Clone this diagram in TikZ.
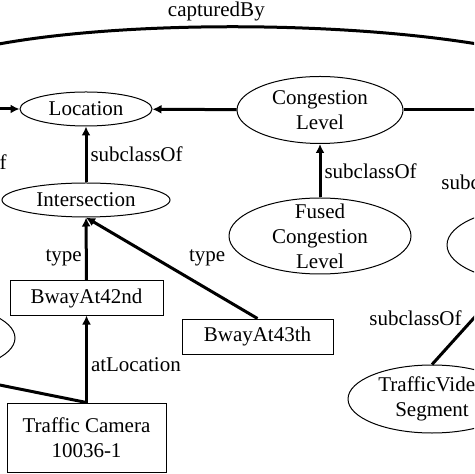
\documentclass[tikz,border=0pt]{standalone}
\usepackage{fontspec}
\setmainfont{Liberation Serif}
\usetikzlibrary{shapes.geometric, arrows.meta}

\begin{document}
\begin{tikzpicture}[
    x=0.5pt, y=-0.5pt,
    font=\fontsize{10.5}{12.5}\selectfont,
    cls/.style={draw, ellipse, line width=0.5pt, inner sep=-5pt, align=center},
    inst/.style={draw, rectangle, line width=0.5pt, inner sep=0pt, align=center},
    arrow/.style={->, >={Latex[length=4.5pt, width=4.5pt]}, line width=1.5pt},
    edge/.style={line width=1.5pt},
    lbl/.style={inner sep=1.5pt}
]

\useasboundingbox (0,0) rectangle (474,474);
\clip (0,0) rectangle (474,474);

% Classes
\node[cls, minimum width=66pt, minimum height=17pt] (loc) at (86,109) {Location};
\node[cls, minimum width=83pt, minimum height=33.5pt] (cong) at (320,110) {Congestion\\Level};
\node[cls, minimum width=84pt, minimum height=17pt] (inter) at (86,200) {Intersection};
\node[cls, minimum width=91pt, minimum height=38pt] (fused) at (320,236) {Fused\\Congestion\\Level};
\node[cls, minimum width=84pt, minimum height=34pt] (tvs) at (432,399) {TrafficVideo\\Segment};

% Classes cut by the frame
\node[cls, minimum width=84pt, minimum height=34pt] (westcls) at (-69,338) {};
\node[cls, minimum width=91pt, minimum height=38pt] (eastcls) at (538,245) {};

% Instances
\node[inst, minimum width=76.5pt, minimum height=17pt] (b42) at (86.5,298) {BwayAt42nd};
\node[inst, minimum width=75.5pt, minimum height=17.5pt] (b43) at (257.5,336.5) {BwayAt43th};
\node[inst, minimum width=79.5pt, minimum height=34.5pt] (cam) at (86.5,437.5) {Traffic Camera\\10036-1};

% Free ends outside the frame
\coordinate (lin) at (-30,109);
\coordinate (congR) at (520,110);
\coordinate (camL) at (-40,377);
\coordinate (tvsR) at (510,278);
\coordinate (capL) at (-30,50);
\coordinate (capR) at (510,50);

% Labels of edges cut by the frame
\node[lbl, anchor=east] (lblW) at (10,162) {subclassOf};
\node[lbl, anchor=west] (lblE) at (438,182) {subclassOf};

% Arrows
\draw[arrow] (lin) -- (loc);
\draw[arrow] (cong) -- (loc);
\draw[edge] (cong) -- (congR);
\draw[arrow] (inter) -- (loc) node[midway, right, lbl] {subclassOf};
\draw[arrow] (fused) -- (cong) node[midway, right, lbl] {subclassOf};
\draw[arrow] (b42) -- (inter) node[pos=0.36, left, lbl] {type};
\draw[arrow] (b43.north) -- (inter.south) node[pos=0.6, right=15pt, lbl] {type};
\draw[arrow] (cam) -- (b42) node[pos=0.43, right, lbl] {atLocation};
\draw[edge] (camL) -- (cam.north);
\draw[edge] (tvs.north) -- (tvsR) node[pos=0.54, left=4pt, lbl] {subclassOf};
\draw[edge] (capL) .. controls (100,19) and (360,19) .. (capR)
    node[pos=0.473, above=-1pt] {capturedBy};

\end{tikzpicture}
\end{document}
